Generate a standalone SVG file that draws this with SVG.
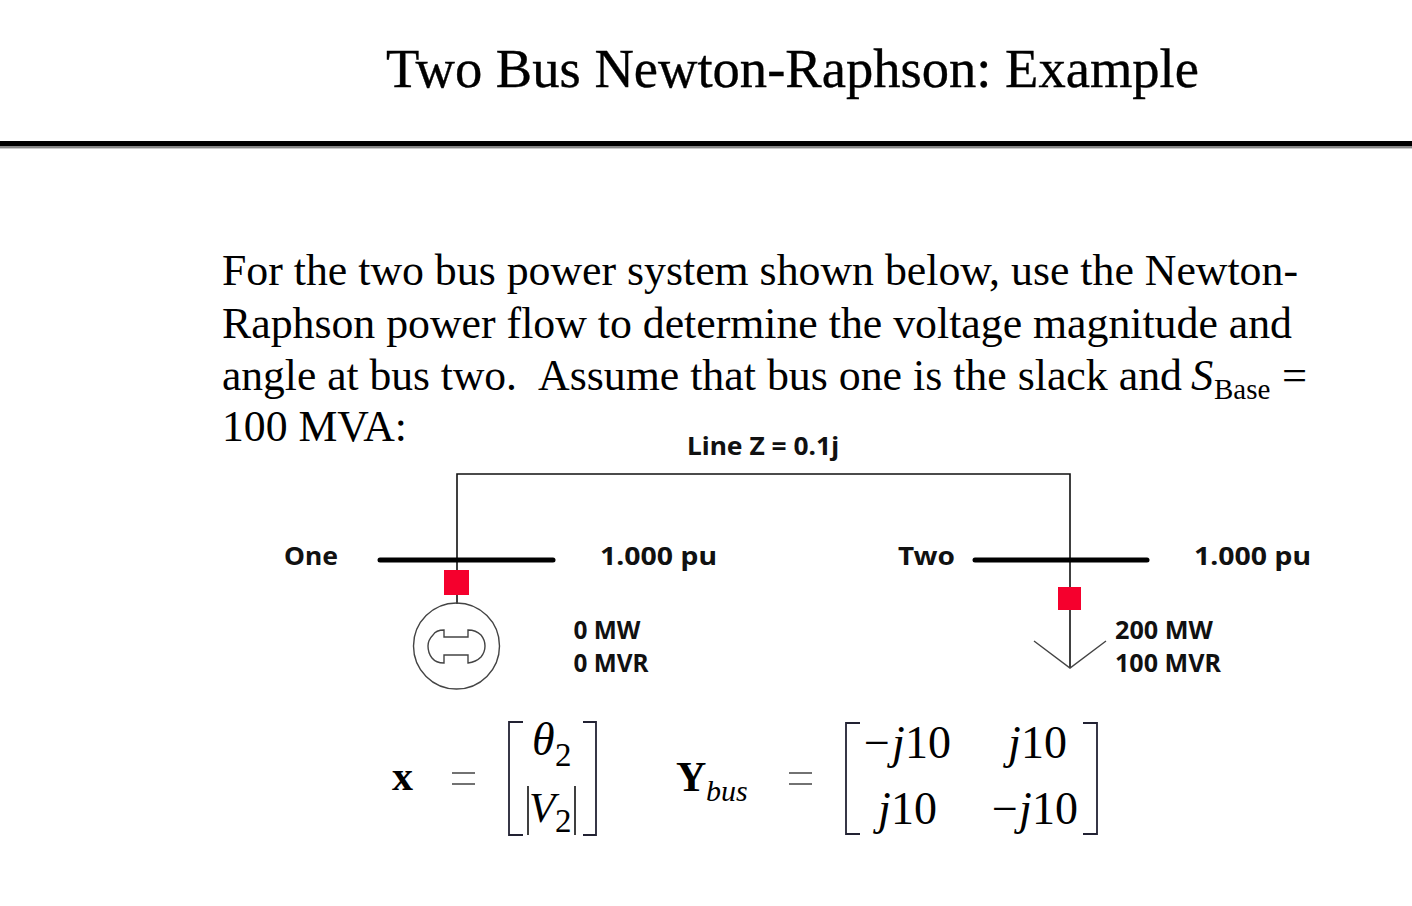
<svg xmlns="http://www.w3.org/2000/svg" width="1412" height="906" viewBox="0 0 1412 906">
<style>
text{fill:#000}
.s{font-family:"Liberation Serif","Times New Roman",serif}
.t{font-size:44.5px;fill:#222}
.l{font-family:"Noto Sans","Open Sans",sans-serif;font-weight:700;font-size:25px;fill:#111}
.m{font-size:46px;fill:#222}
.i{font-style:italic}
.sub{font-size:33px}
.eq{stroke:#444;stroke-width:1.6;fill:none}
.br{stroke:#223;stroke-width:1.8;fill:none}
.w{stroke:#111;stroke-width:1.6;fill:none}
.bus{stroke:#000;stroke-width:5;stroke-linecap:round;fill:none}
.g{stroke:#444;stroke-width:1.4;fill:none}
</style>
<rect width="1412" height="906" fill="#fff"/>
<g id="header">
<text class="s" x="386" y="87" font-size="54" textLength="813" lengthAdjust="spacingAndGlyphs" stroke="#000" stroke-width="0.35">Two Bus Newton-Raphson: Example</text>
<rect x="0" y="141" width="1412" height="5" fill="#000"/>
<rect x="0" y="146" width="1412" height="2" fill="#888"/>
<rect x="0" y="148" width="1412" height="1" fill="#ccc"/>
</g>
<g id="problem-text" class="s t">
<text x="222" y="285" textLength="1076" lengthAdjust="spacingAndGlyphs">For the two bus power system shown below, use the Newton-</text>
<text x="222" y="338" textLength="1070" lengthAdjust="spacingAndGlyphs">Raphson power flow to determine the voltage magnitude and</text>
<text x="222" y="390" textLength="295" lengthAdjust="spacingAndGlyphs">angle at bus two.</text>
<text x="538" y="390" textLength="644" lengthAdjust="spacingAndGlyphs">Assume that bus one is the slack and</text>
<text x="1191" y="390" class="i">S</text>
<text x="1214" y="399" font-size="29">Base</text>
<text x="1282" y="390" fill="#555">=</text>
<text x="222" y="441" textLength="185" lengthAdjust="spacingAndGlyphs">100 MVA:</text>
</g>
<g id="connectors">
<path class="w" d="M457 558V474H1070V558"/>
<path class="w" d="M457 558V604"/>
<path class="w" d="M1070 558V668"/>
</g>
<g id="line-label"><text class="l" x="687" y="455" textLength="152" lengthAdjust="spacingAndGlyphs">Line Z = 0.1j</text></g>
<g id="bus-one">
<path class="bus" d="M380 560H553"/>
<text class="l" x="284" y="565" textLength="54" lengthAdjust="spacingAndGlyphs">One</text>
<text class="l" x="600" y="565" textLength="117" lengthAdjust="spacingAndGlyphs">1.000 pu</text>
<rect x="444" y="570" width="25" height="25" fill="#f5002d"/>
</g>
<g id="generator">
<circle class="g" cx="456.500" cy="646" r="43"/>
<path class="g" d="M444 637V630Q436 630 433 635Q428 640 428 646Q428 653 432 658Q436 663 444 663V655H468V663Q476 662 481 657Q485 652 485 646Q485 640 481 635Q476 630 468 630V637Z"/>
<text class="l" x="573.500" y="639" textLength="67" lengthAdjust="spacingAndGlyphs">0 MW</text>
<text class="l" x="573.500" y="672" textLength="75" lengthAdjust="spacingAndGlyphs">0 MVR</text>
</g>
<g id="bus-two">
<path class="bus" d="M975 560H1147"/>
<text class="l" x="898" y="565" textLength="57" lengthAdjust="spacingAndGlyphs">Two</text>
<text class="l" x="1194" y="565" textLength="117" lengthAdjust="spacingAndGlyphs">1.000 pu</text>
<rect x="1058" y="587" width="23" height="23" fill="#f5002d"/>
</g>
<g id="load">
<path class="g" d="M1034 641L1070 668L1106 641"/>
<text class="l" x="1115" y="639" textLength="98" lengthAdjust="spacingAndGlyphs">200 MW</text>
<text class="l" x="1115" y="672" textLength="106" lengthAdjust="spacingAndGlyphs">100 MVR</text>
</g>
<g id="x-equation" class="s m">
<text x="392" y="790" font-weight="700" font-size="42">x</text>
<path class="eq" d="M452 773H475M452 784H475"/>
<path class="br" d="M523 722H509V835H523M583 722H596V835H583"/>
<text x="532" y="755" class="i">θ</text>
<text x="555" y="766" class="sub">2</text>
<path class="w" d="M528 786V835M575 786V835"/>
<text x="529" y="822" class="i" font-size="43">V</text>
<text x="555" y="832" class="sub">2</text>
</g>
<g id="ybus-equation" class="s m">
<text x="676" y="791" font-weight="700" font-size="42">Y</text>
<text x="706" y="801" class="i" font-size="30">bus</text>
<path class="eq" d="M789 773H812M789 784H812"/>
<path class="br" d="M860 723H846V834H860M1083 723H1097V834H1083"/>
<text x="864" y="758">−</text>
<text x="892" y="758" class="i">j</text><text x="905" y="758">10</text>
<text x="1008" y="758" class="i">j</text><text x="1021" y="758">10</text>
<text x="878" y="824" class="i">j</text><text x="891" y="824">10</text>
<text x="992" y="824">−</text>
<text x="1019" y="824" class="i">j</text><text x="1032" y="824">10</text>
</g>
</svg>
